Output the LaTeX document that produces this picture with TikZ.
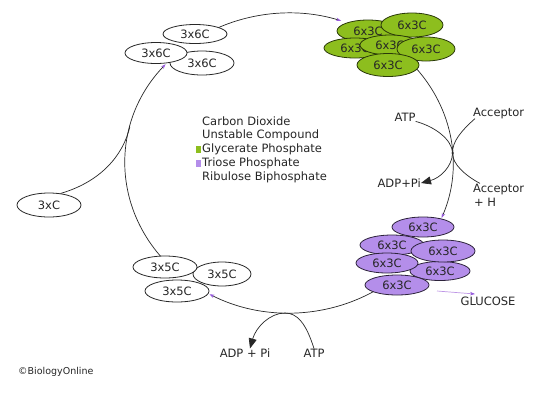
\documentclass[tikz,border=0pt]{standalone}
\usepackage{fontspec}
\setmainfont{DejaVu Sans}
\usetikzlibrary{shapes.geometric,arrows.meta}
\definecolor{gfill}{RGB}{141,190,30}
\definecolor{pfill}{RGB}{180,142,234}
\definecolor{lc}{RGB}{40,40,40}
\definecolor{parr}{RGB}{150,90,220}
\definecolor{glarr}{RGB}{190,150,230}
\begin{document}
\begin{tikzpicture}[x=1pt,y=-1pt,
  blob/.style={ellipse, draw=lc, line width=0.8pt, inner sep=0pt, font=\fontsize{11.5}{13}\selectfont, text=black!85},
  wb/.style={blob, fill=white},
  gb/.style={blob, fill=gfill, draw=black!70!gfill},
  pb/.style={blob, fill=pfill, draw=black!75!pfill},
  lbl/.style={font=\fontsize{11.5}{13}\selectfont, text=black!85, inner sep=0pt},
  cyc/.style={draw=lc, line width=0.7pt, -{Stealth[length=5pt,width=3.5pt,color=parr]}},
  ln/.style={draw=lc, line width=0.7pt},
  big/.style={ln, -{Triangle[length=10pt,width=8pt]}},
]
\useasboundingbox[fill=white] (0,0) rectangle (536,392);

% cycle arcs
\coordinate (s1) at ({289+164*cos(116)},{163-150*sin(116)});
\coordinate (s2) at ({289+164*cos(40)},{163-150*sin(40)});
\coordinate (s3) at ({289+164*cos(-58)},{163-150*sin(-58)});
\coordinate (s4) at ({289+164*cos(220)},{163-150*sin(220)});
\draw[cyc] (s1) arc[start angle=116, end angle=71.5, x radius=164pt, y radius=150pt];
\draw[cyc] (s2) arc[start angle=40, end angle=-21.5, x radius=164pt, y radius=150pt];
\draw[cyc] (s3) arc[start angle=-58, end angle=-119, x radius=164pt, y radius=150pt];
\draw[cyc] (s4) arc[start angle=220, end angle=138.8, x radius=164pt, y radius=150pt];

% 3x6C group
\node[wb, minimum width=64pt, minimum height=19pt] (t6a) at (195,34) {3x6C};
\node[wb, minimum width=64pt, minimum height=24pt] (t6c) at (202,63) {3x6C};
\node[wb, minimum width=62pt, minimum height=21pt] (t6b) at (156,53) {3x6C};

% green group
\node[gb, minimum width=62pt, minimum height=22pt] (g1) at (368,31) {6x3C};
\node[gb, minimum width=62pt, minimum height=24pt] (g2) at (412,25) {6x3C};
\node[gb, minimum width=62pt, minimum height=20pt] (g3) at (355,48) {6x3C};
\node[gb, minimum width=60pt, minimum height=20pt] (g4) at (390,45) {6x3C};
\node[gb, minimum width=58pt, minimum height=24pt] (g5) at (426,49) {6x3C};
\node[gb, minimum width=62pt, minimum height=23pt] (g6) at (388,65) {6x3C};

% purple group
\node[pb, minimum width=62pt, minimum height=20pt] (p1) at (423,227) {6x3C};
\node[pb, minimum width=60pt, minimum height=19pt] (p5) at (440,271) {6x3C};
\node[pb, minimum width=64pt, minimum height=20pt] (p2) at (392,245) {6x3C};
\node[pb, minimum width=64pt, minimum height=22pt] (p3) at (443,251) {6x3C};
\node[pb, minimum width=62pt, minimum height=20pt] (p4) at (387,263) {6x3C};
\node[pb, minimum width=64pt, minimum height=20pt] (p6) at (397,285) {6x3C};

% 3x5C group
\node[wb, minimum width=58pt, minimum height=24pt] (f2) at (222,274) {3x5C};
\node[wb, minimum width=64pt, minimum height=22pt] (f1) at (165,267) {3x5C};
\node[wb, minimum width=64pt, minimum height=22pt] (f3) at (177,291) {3x5C};

% 3xC
\node[wb, minimum width=64pt, minimum height=24pt] (c3) at (49,205) {3xC};
\coordinate (m1) at ({289+164*cos(166)},{163-150*sin(166)});
\draw[ln] (c3.45) .. controls (100,182) and (123,156) .. (m1);

% legend
\node[lbl, anchor=west] (l1) at (202,121) {Carbon Dioxide};
\node[lbl, anchor=west] (l2) at (202,135) {Unstable Compound};
\node[lbl, anchor=west] (l3) at (202,149) {Glycerate Phosphate};
\node[lbl, anchor=west] (l4) at (202,163) {Triose Phosphate};
\node[lbl, anchor=west] (l5) at (202,177) {Ribulose Biphosphate};
\node[fill=gfill, minimum width=5pt, minimum height=7pt, inner sep=0pt] (sqg) at (198,149) {};
\node[fill=pfill, minimum width=5pt, minimum height=7pt, inner sep=0pt] (sqp) at (198,163) {};

% right crossing
\coordinate (X) at (452.6,153);
\node[lbl] (atp1) at (405,117) {ATP};
\node[lbl, anchor=west] (acc1) at (473,113) {Acceptor};
\node[lbl, anchor=east] (adp1) at (421,183) {ADP+Pi};
\node[lbl, anchor=west] (acc2) at (473,189) {Acceptor};
\node[lbl, anchor=west] (hh) at (474,202) {+ H};
\draw[big] (atp1.south east) .. controls (436,127) and (452,140) .. (X) .. controls (452,167) and (440,178) .. (adp1.east);
\draw[ln] ([xshift=2pt]acc1.south west) .. controls (461,131) and (452,142) .. (X) .. controls (452,164) and (466,176) .. ([xshift=7pt]acc2.north west);
\fill[lc] (X) circle (1.3pt);

% bottom
\node[lbl] (adp2) at (245,353) {ADP + Pi};
\node[lbl] (atp2) at (314,353) {ATP};
\coordinate (pk) at (285,313);
\draw[big] (atp2.north) .. controls (306,323) and (297,313) .. (pk) .. controls (270,313) and (256,327) .. ([xshift=5pt]adp2.north);

% glucose
\node[lbl] (glu) at (488,301) {GLUCOSE};
\coordinate (gs) at (437,291);
\coordinate (ge) at (475,294);
\draw[draw=glarr, line width=0.7pt, -{Stealth[length=5pt,width=3.5pt,color=parr]}] (gs) -- (ge);

% copyright
\node[font=\fontsize{9.5}{11}\selectfont, anchor=west, inner sep=0pt, text=black!85] (cp) at (18,372) {©BiologyOnline};
\end{tikzpicture}
\end{document}
